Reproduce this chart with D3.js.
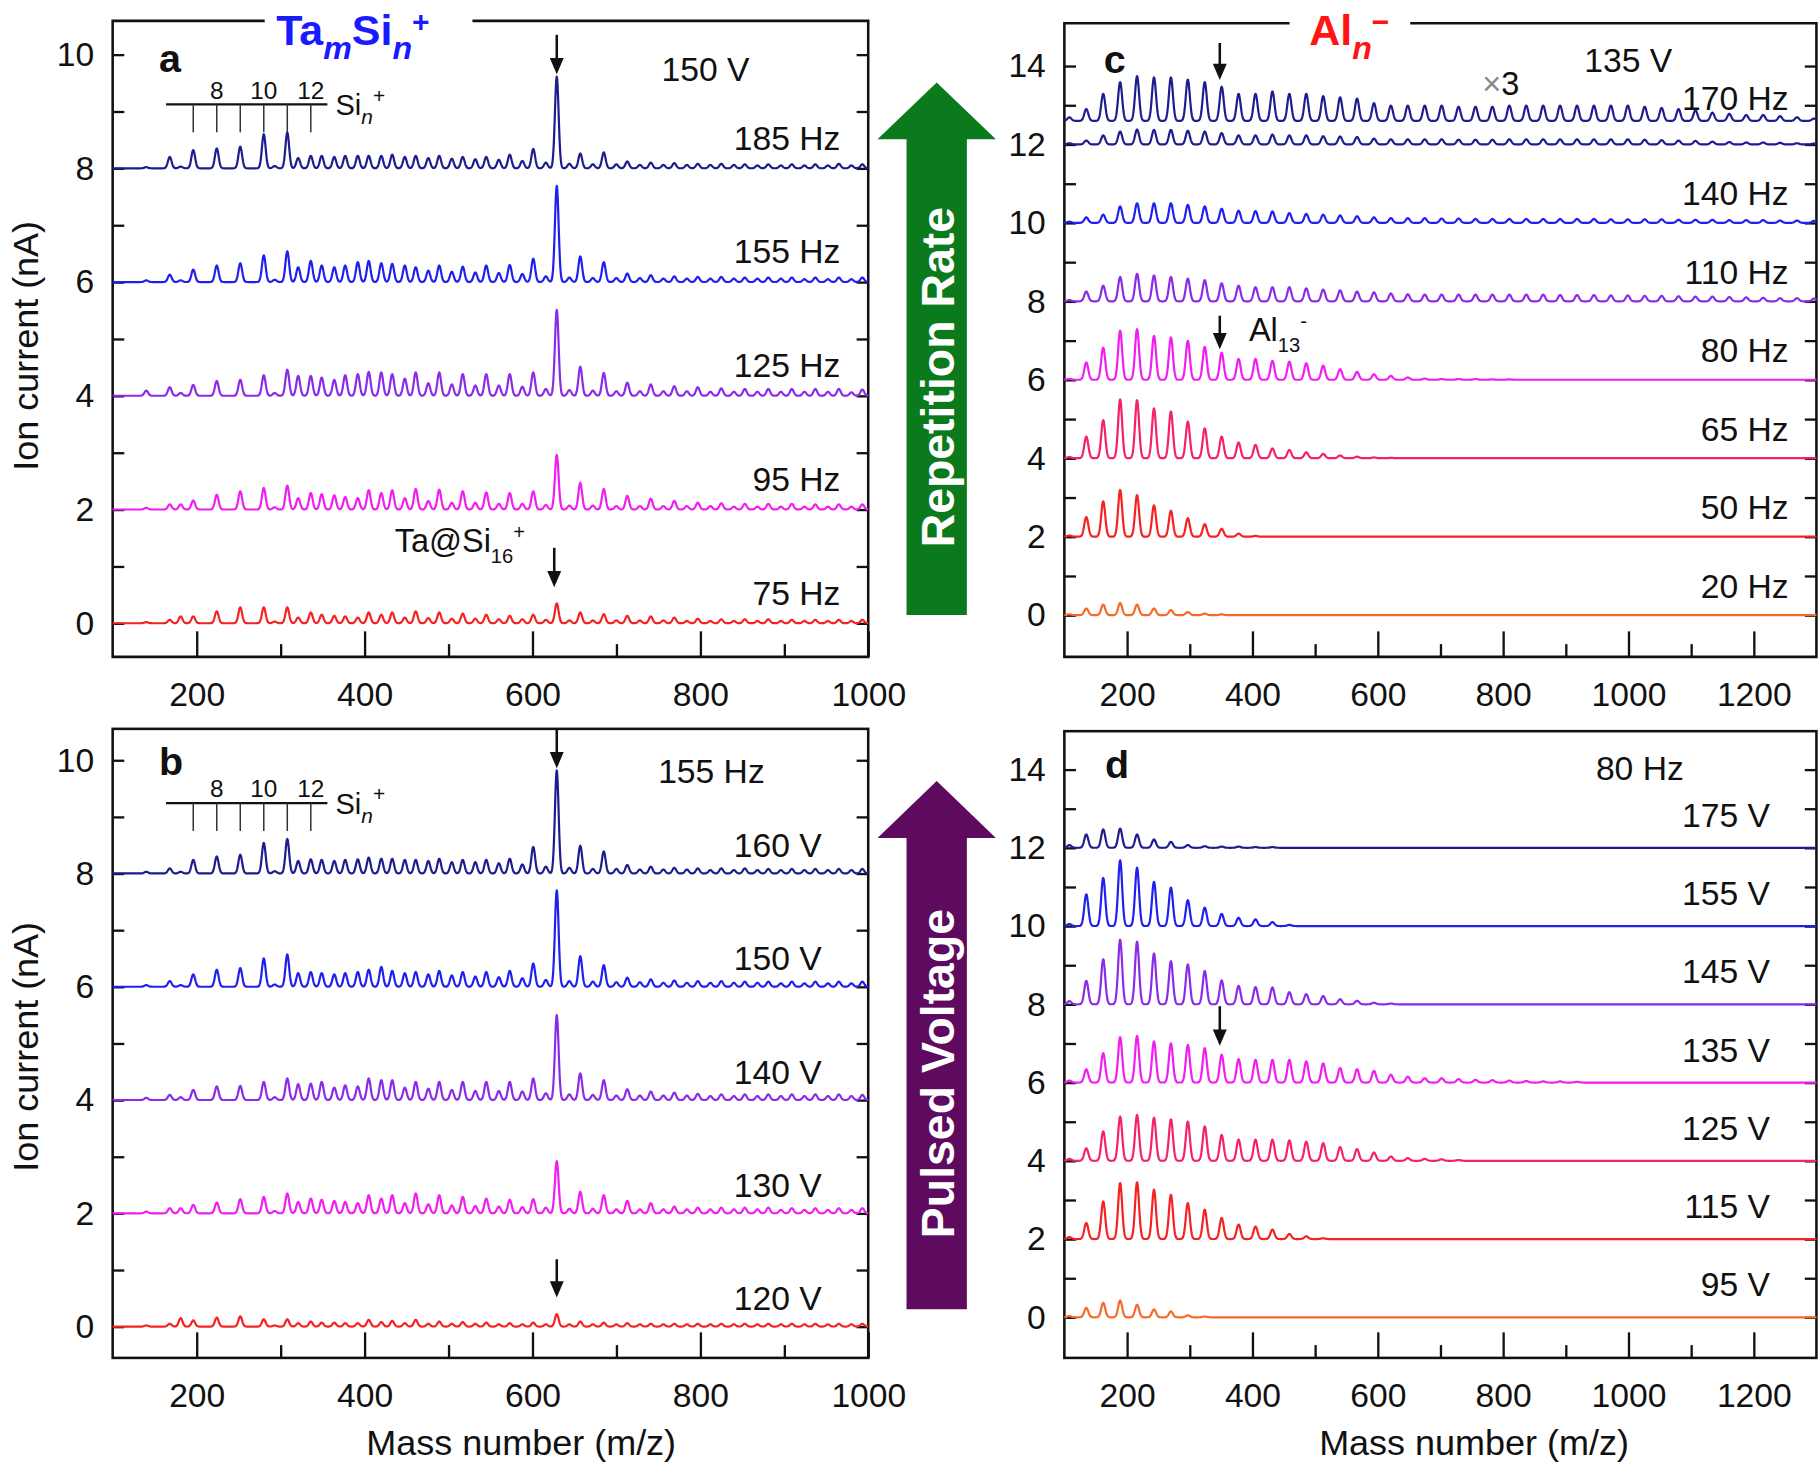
<!DOCTYPE html>
<html>
<head>
<meta charset="utf-8">
<script src="https://cdn.jsdelivr.net/npm/d3@7"></script>
<style>
  body { margin: 0; background: #fff; }
  svg { display: block; }
</style>
</head>
<body>
<svg id="fig"></svg>
<script>
// ---- peak positions (mass numbers) ----
const taMass = 181;
// Si_n+ , n = 5..35
const siMass = [140,168,196,224,252,280,308,336,364,392,420,448,476,504,532,560,588,616,644,672,700,728,756,784,812,840,868,896,924,952,980];
// TaSi_n+ , n = 4..29
const taSiMass = [293,321,349,377,405,433,461,489,517,545,573,601,629,657,685,713,741,769,797,825,853,881,909,937,965,993];
// Al_n- , n = 4..48
const alMass = [108,135,162,189,216,243,270,297,324,351,378,405,432,459,486,513,540,567,594,621,648,675,702,729,756,783,810,837,864,891,918,945,972,999,1026,1053,1080,1107,1134,1161,1188,1215,1242,1269,1296];

// ---- panel a : repetition rate (150 V) ----
const aLabels = ["185 Hz","155 Hz","125 Hz","95 Hz","75 Hz"];
const aBase = [8,6,4,2,0];
const aTa = [0.03,0.03,0.05,0.09,0.12];
const a185Si = [0.02,0.20,0.32,0.35,0.38,0.60,0.63,0.22,0.20,0.22,0.22,0.20,0.18,0.17,0.16,0.15,0.13,0.10,0.08,0.07,0.07,0.06,0.06,0.06,0.06,0.06,0.05,0.05,0.05,0.05,0.05];
const a185TaSi = [0.04,0.18,0.22,0.22,0.22,0.24,0.22,0.22,0.20,0.20,0.24,0.34,1.61,0.26,0.28,0.12,0.10,0.09,0.08,0.08,0.07,0.07,0.07,0.07,0.08,0.07];
const a155Si = [0.03,0.13,0.22,0.29,0.33,0.47,0.54,0.37,0.26,0.35,0.33,0.29,0.20,0.18,0.17,0.16,0.14,0.10,0.08,0.07,0.07,0.07,0.06,0.06,0.06,0.06,0.06,0.06,0.05,0.05,0.05];
const a155TaSi = [0.04,0.26,0.29,0.29,0.37,0.32,0.26,0.29,0.27,0.29,0.30,0.41,1.69,0.45,0.35,0.15,0.12,0.10,0.09,0.09,0.08,0.08,0.08,0.08,0.08,0.08];
const a125Si = [0.09,0.15,0.19,0.26,0.28,0.36,0.46,0.35,0.28,0.38,0.41,0.30,0.22,0.20,0.18,0.18,0.16,0.12,0.10,0.09,0.08,0.08,0.08,0.08,0.07,0.07,0.07,0.07,0.07,0.07,0.06];
const a125TaSi = [0.05,0.35,0.32,0.36,0.42,0.38,0.41,0.41,0.38,0.38,0.38,0.41,1.51,0.51,0.40,0.23,0.20,0.17,0.15,0.13,0.12,0.12,0.12,0.12,0.12,0.11];
const a95Si = [0.03,0.09,0.16,0.26,0.32,0.38,0.42,0.29,0.25,0.20,0.29,0.20,0.15,0.12,0.12,0.10,0.10,0.08,0.07,0.07,0.06,0.06,0.06,0.06,0.06,0.05,0.05,0.05,0.05,0.05,0.05];
const a95TaSi = [0.04,0.20,0.27,0.22,0.34,0.34,0.36,0.35,0.32,0.30,0.29,0.32,0.96,0.47,0.36,0.24,0.19,0.15,0.12,0.11,0.10,0.10,0.10,0.09,0.09,0.09];
const a75Si = [0.02,0.06,0.12,0.21,0.28,0.28,0.28,0.19,0.13,0.10,0.15,0.10,0.09,0.08,0.08,0.07,0.07,0.06,0.05,0.05,0.05,0.05,0.05,0.04,0.04,0.04,0.04,0.04,0.04,0.04,0.04];
const a75TaSi = [0.03,0.10,0.15,0.12,0.19,0.19,0.21,0.19,0.17,0.15,0.13,0.15,0.35,0.19,0.16,0.13,0.12,0.10,0.08,0.07,0.07,0.07,0.06,0.06,0.06,0.06];

// ---- panel b : pulsed voltage (155 Hz) ----
const bLabels = ["160 V","150 V","140 V","130 V","120 V"];
const bBase = [8,6,4,2,0];
const bTa = [0.03,0.03,0.05,0.09,0.15];
const b160Si = [0.03,0.09,0.24,0.30,0.33,0.54,0.61,0.25,0.22,0.25,0.26,0.24,0.22,0.20,0.20,0.18,0.16,0.12,0.10,0.08,0.08,0.07,0.07,0.07,0.06,0.06,0.06,0.06,0.06,0.06,0.06];
const b160TaSi = [0.04,0.22,0.24,0.24,0.28,0.26,0.24,0.26,0.24,0.24,0.26,0.47,1.82,0.49,0.39,0.15,0.12,0.10,0.09,0.09,0.09,0.08,0.08,0.08,0.08,0.08];
const b150Si = [0.03,0.10,0.22,0.30,0.33,0.50,0.57,0.26,0.22,0.26,0.35,0.24,0.22,0.20,0.18,0.17,0.15,0.12,0.10,0.09,0.08,0.08,0.07,0.07,0.07,0.07,0.07,0.06,0.06,0.06,0.06];
const b150TaSi = [0.04,0.24,0.24,0.24,0.30,0.28,0.26,0.28,0.26,0.26,0.28,0.41,1.70,0.54,0.38,0.16,0.13,0.11,0.10,0.10,0.09,0.09,0.09,0.09,0.09,0.09];
const b140Si = [0.04,0.09,0.18,0.24,0.25,0.32,0.38,0.29,0.22,0.24,0.35,0.22,0.20,0.18,0.16,0.16,0.15,0.12,0.10,0.09,0.08,0.08,0.08,0.08,0.07,0.07,0.07,0.07,0.07,0.07,0.07];
const b140TaSi = [0.05,0.28,0.32,0.26,0.38,0.35,0.32,0.32,0.32,0.32,0.32,0.38,1.50,0.47,0.35,0.19,0.15,0.13,0.11,0.10,0.10,0.10,0.10,0.10,0.10,0.09];
const b130Si = [0.03,0.09,0.15,0.19,0.25,0.29,0.35,0.26,0.22,0.18,0.26,0.18,0.16,0.14,0.13,0.12,0.11,0.10,0.08,0.08,0.07,0.07,0.07,0.07,0.07,0.07,0.07,0.06,0.06,0.06,0.06];
const b130TaSi = [0.04,0.20,0.24,0.20,0.32,0.32,0.35,0.32,0.29,0.26,0.24,0.25,0.92,0.38,0.32,0.22,0.18,0.12,0.10,0.10,0.10,0.10,0.09,0.09,0.09,0.09];
const b120Si = [0.02,0.05,0.11,0.16,0.18,0.13,0.13,0.09,0.07,0.06,0.08,0.06,0.05,0.05,0.05,0.04,0.04,0.04,0.04,0.04,0.04,0.04,0.04,0.04,0.04,0.04,0.04,0.04,0.04,0.04,0.04];
const b120TaSi = [0.02,0.06,0.07,0.06,0.12,0.10,0.12,0.09,0.08,0.07,0.06,0.07,0.22,0.09,0.07,0.06,0.05,0.05,0.05,0.05,0.05,0.05,0.05,0.05,0.05,0.05];

// ---- panel c : repetition rate (135 V) ----
const cLabels = ["170 Hz","140 Hz","110 Hz","80 Hz","65 Hz","50 Hz","20 Hz"];
const cBase = [12,10,8,6,4,2,0];
const c170 = [0.03,0.10,0.23,0.33,0.38,0.37,0.37,0.35,0.33,0.29,0.23,0.23,0.25,0.23,0.23,0.21,0.20,0.19,0.15,0.13,0.13,0.13,0.13,0.12,0.12,0.12,0.13,0.13,0.13,0.13,0.13,0.13,0.13,0.13,0.12,0.11,0.10,0.09,0.07,0.06,0.05,0.05,0.04,0.03,0.02];
const c140 = [0.03,0.14,0.21,0.42,0.50,0.50,0.50,0.46,0.42,0.36,0.31,0.30,0.29,0.25,0.23,0.21,0.19,0.17,0.14,0.12,0.12,0.12,0.11,0.11,0.10,0.10,0.10,0.10,0.10,0.10,0.10,0.10,0.09,0.09,0.09,0.09,0.08,0.08,0.08,0.07,0.07,0.07,0.06,0.06,0.05];
const c110 = [0.03,0.25,0.40,0.62,0.70,0.66,0.62,0.58,0.54,0.46,0.40,0.36,0.36,0.36,0.33,0.30,0.28,0.25,0.23,0.20,0.18,0.17,0.17,0.17,0.17,0.17,0.17,0.17,0.17,0.16,0.16,0.16,0.15,0.15,0.14,0.14,0.13,0.12,0.12,0.11,0.10,0.09,0.08,0.08,0.07];
const c80 = [0.02,0.44,0.82,1.25,1.29,1.12,1.08,0.99,0.84,0.69,0.53,0.53,0.48,0.46,0.42,0.36,0.27,0.20,0.14,0.10,0.06,0.03,0.02,0.02,0.02,0.01,0.01];
const c65 = [0.03,0.55,0.97,1.50,1.48,1.27,1.19,0.93,0.76,0.55,0.40,0.34,0.25,0.21,0.15,0.11,0.07,0.04,0.02,0.01];
const c50 = [0.03,0.50,0.90,1.19,1.06,0.80,0.66,0.47,0.32,0.20,0.08,0.02];
const c20 = [0.02,0.17,0.27,0.31,0.27,0.17,0.13,0.08,0.04,0.02];
const cTimes3Offset = 12.6;

// ---- panel d : pulsed voltage (80 Hz) ----
const dLabels = ["175 V","155 V","145 V","135 V","125 V","115 V","95 V"];
const dBase = [12,10,8,6,4,2,0];
const d175 = [0.07,0.34,0.47,0.49,0.34,0.21,0.15,0.07,0.04,0.03,0.03,0.02,0.02];
const d155 = [0.05,0.81,1.23,1.68,1.49,1.13,0.98,0.66,0.47,0.31,0.21,0.17,0.10,0.03];
const d145 = [0.08,0.60,1.15,1.65,1.60,1.30,1.10,1.02,0.85,0.61,0.47,0.44,0.43,0.31,0.26,0.21,0.13,0.09,0.04,0.02];
const d135 = [0.05,0.34,0.75,1.16,1.19,1.05,1.00,0.96,0.88,0.71,0.60,0.58,0.58,0.58,0.54,0.49,0.37,0.34,0.30,0.20,0.15,0.11,0.11,0.09,0.07,0.06,0.05,0.04,0.03,0.03,0.02];
const d125 = [0.05,0.32,0.75,1.13,1.17,1.10,1.06,1.00,0.88,0.66,0.54,0.54,0.54,0.52,0.49,0.45,0.35,0.30,0.21,0.11,0.07,0.05,0.04,0.02];
const d115 = [0.05,0.41,0.96,1.43,1.45,1.26,1.13,0.92,0.75,0.54,0.37,0.32,0.24,0.13,0.07,0.02];
const d95 = [0.03,0.24,0.37,0.43,0.32,0.20,0.15,0.05,0.02];

// ---- tick values ----
const tasiXTicks = [200,400,600,800,1000];
const tasiXMinor = [300,500,700,900];
const alXTicks = [200,400,600,800,1000,1200];
const alXMinor = [300,500,700,900,1100];

// ---------------------------------------------------------------
const FONT = '"Liberation Sans", Arial, Helvetica, sans-serif';
const W = 1568, H = 1264;
const colors5 = ["#1d1d8e","#2020ee","#8a2be8","#f01ef0","#f52222"];
const colors7 = ["#1d1d8e","#2020ee","#8a2be8","#f01ef0","#f5206e","#f52222","#f56a2a"];

const svg = d3.select("#fig")
  .attr("width", 1820).attr("height", 1467)
  .attr("viewBox", `0 0 ${W} ${H}`);

const panels = {
  a: { x0: 97, x1: 748, y0: 18, y1: 566, xd: [100, 1000], yd: [-0.592, 10.592] },
  b: { x0: 97, x1: 748, y0: 628, y1: 1170, xd: [100, 1000], yd: [-0.553, 10.553] },
  c: { x0: 917, x1: 1565, y0: 20, y1: 566, xd: [100, 1300], yd: [-1.065, 15.09] },
  d: { x0: 917, x1: 1565, y0: 630, y1: 1170, xd: [100, 1300], yd: [-1.038, 14.98] }
};
Object.values(panels).forEach(p => {
  p.x = d3.scaleLinear().domain(p.xd).range([p.x0, p.x1]);
  p.y = d3.scaleLinear().domain(p.yd).range([p.y1, p.y0]);
});

// build a spectrum curve from a list of peaks
function spectrum(peaks, sigma, xd, base, scale) {
  const pts = [];
  for (let m = xd[0]; m <= xd[1]; m += 0.5) {
    let v = 0;
    for (const pk of peaks) {
      const dx = m - pk[0];
      if (Math.abs(dx) < 6 * sigma) v += pk[1] * Math.exp(-dx * dx / (2 * sigma * sigma));
    }
    pts.push([m, base + v * scale]);
  }
  return pts;
}
function tasiPeaks(ta, si, tasi) {
  const out = [[taMass, ta]];
  siMass.forEach((m, i) => out.push([m, si[i] || 0]));
  taSiMass.forEach((m, i) => out.push([m, tasi[i] || 0]));
  return out;
}
function alPeaks(h) {
  return alMass.map((m, i) => [m, h[i] || 0]);
}

function text(g, x, y, str, size, anchor, opts = {}) {
  return g.append("text").attr("x", x).attr("y", y)
    .attr("text-anchor", anchor || "start")
    .style("font-family", FONT).style("font-size", size + "px")
    .style("font-weight", opts.bold ? "bold" : "normal")
    .style("fill", opts.fill || "#111")
    .text(str);
}
function rich(g, x, y, parts, size, opts = {}) {
  const t = g.append("text").attr("x", x).attr("y", y)
    .attr("text-anchor", opts.anchor || "start")
    .style("font-family", FONT).style("font-size", size + "px")
    .style("font-weight", opts.bold ? "bold" : "normal")
    .style("fill", opts.fill || "#111");
  let shift = 0;
  const supK = opts.supK || 0.42;
  parts.forEach(p => {
    const s = t.append("tspan").text(p.t);
    const target = p.sub ? size * 0.32 : p.sup ? -size * supK : 0;
    if (target - shift !== 0) s.attr("dy", target - shift);
    shift = target;
    if (p.sub || p.sup) s.style("font-size", (size * (p.small || 0.66)) + "px");
    if (p.it) s.style("font-style", "italic");
    if (p.fill) s.style("fill", p.fill);
  });
  return t;
}
function smallArrow(g, x, yTop, yTip) {
  g.append("line").attr("x1", x).attr("x2", x).attr("y1", yTop).attr("y2", yTip - 10)
    .attr("stroke", "#111").attr("stroke-width", 2.2);
  g.append("path").attr("d", `M${x - 6},${yTip - 14}L${x + 6},${yTip - 14}L${x},${yTip}Z`).attr("fill", "#111");
}

function drawFrame(key, yMax, xTicks, xMinor, titleGap) {
  const p = panels[key];
  const g = svg.append("g");
  // axes
  const yt = d3.range(0, yMax + 1);
  g.append("g").attr("transform", `translate(${p.x0},0)`)
    .call(d3.axisLeft(p.y).tickValues(yt).tickSize(-10).tickPadding(16)
      .tickFormat(d => d % 2 === 0 ? d : ""));
  g.append("g").attr("transform", `translate(${p.x1},0)`)
    .call(d3.axisRight(p.y).tickValues(yt).tickSize(-10).tickFormat(""));
  g.append("g").attr("transform", `translate(0,${p.y1})`)
    .call(d3.axisBottom(p.x).tickValues(xTicks).tickSize(-22).tickPadding(22)
      .tickFormat(d3.format("d")));
  g.append("g").attr("transform", `translate(0,${p.y1})`)
    .call(d3.axisBottom(p.x).tickValues(xMinor).tickSize(-11).tickFormat(""));
  g.selectAll(".domain").remove();
  g.selectAll(".tick line").attr("stroke", "#111").attr("stroke-width", 2);
  g.selectAll(".tick text").style("font-family", FONT).style("font-size", "29px").attr("fill", "#111");
  // frame
  const fr = svg.append("g").attr("stroke", "#111").attr("stroke-width", 2.2).attr("fill", "none");
  if (titleGap) {
    fr.append("path").attr("d",
      `M${titleGap[0]},${p.y0}H${p.x0}V${p.y1}H${p.x1}V${p.y0}H${titleGap[1]}`);
  } else {
    fr.append("rect").attr("x", p.x0).attr("y", p.y0).attr("width", p.x1 - p.x0).attr("height", p.y1 - p.y0);
  }
  return g;
}

function drawTrace(key, pts, color) {
  const p = panels[key];
  const line = d3.line().x(d => p.x(d[0])).y(d => p.y(d[1]));
  svg.append("path").datum(pts).attr("d", line)
    .attr("fill", "none").attr("stroke", color).attr("stroke-width", 1.9)
    .attr("stroke-linejoin", "round");
}

// ---- panel a ----
drawFrame("a", 10, tasiXTicks, tasiXMinor, [228, 407]);
const aSi = [a185Si, a155Si, a125Si, a95Si, a75Si];
const aTaSi = [a185TaSi, a155TaSi, a125TaSi, a95TaSi, a75TaSi];
aBase.forEach((b, i) => {
  drawTrace("a", spectrum(tasiPeaks(aTa[i], aSi[i], aTaSi[i]), 2.2, panels.a.xd, b, 1), colors5[i]);
  text(svg, 724, panels.a.y(b) - 16, aLabels[i], 29, "end");
});

// ---- panel b ----
drawFrame("b", 10, tasiXTicks, tasiXMinor, null);
const bSi = [b160Si, b150Si, b140Si, b130Si, b120Si];
const bTaSi = [b160TaSi, b150TaSi, b140TaSi, b130TaSi, b120TaSi];
bBase.forEach((b, i) => {
  drawTrace("b", spectrum(tasiPeaks(bTa[i], bSi[i], bTaSi[i]), 2.2, panels.b.xd, b, 1), colors5[i]);
  text(svg, 708, panels.b.y(b) - 14, bLabels[i], 29, "end");
});

// ---- panel c ----
drawFrame("c", 14, alXTicks, alXMinor, [1111, 1215]);
const cData = [c170, c140, c110, c80, c65, c50, c20];
drawTrace("c", spectrum(alPeaks(c170), 3.2, panels.c.xd, cTimes3Offset, 3), colors7[0]);
cBase.forEach((b, i) => {
  drawTrace("c", spectrum(alPeaks(cData[i]), 3.2, panels.c.xd, b, 1), colors7[i]);
  const ly = i === 0 ? panels.c.y(cTimes3Offset) - 9 : panels.c.y(b) - 15;
  text(svg, 1541, ly, cLabels[i], 29, "end");
});

// ---- panel d ----
drawFrame("d", 14, alXTicks, alXMinor, null);
const dData = [d175, d155, d145, d135, d125, d115, d95];
dBase.forEach((b, i) => {
  drawTrace("d", spectrum(alPeaks(dData[i]), 3.2, panels.d.xd, b, 1), colors7[i]);
  text(svg, 1525, panels.d.y(b) - 18, dLabels[i], 29, "end");
});

// ---- titles & panel letters ----
rich(svg, 238, 39, [{ t: "Ta" }, { t: "m", sub: true, it: true, small: 0.75 }, { t: "Si" },
  { t: "n", sub: true, it: true, small: 0.75 }, { t: "+", sup: true, small: 0.7 }], 37,
  { bold: true, fill: "#1a1aff", supK: 0.3 });
rich(svg, 1128, 39, [{ t: "Al" }, { t: "n", sub: true, it: true, small: 0.75 }, { t: "\u2212", sup: true, small: 0.7 }],
  37, { bold: true, fill: "#ff1414", supK: 0.3 });
text(svg, 137, 62, "a", 34, "start", { bold: true });
text(svg, 137, 668, "b", 34, "start", { bold: true });
text(svg, 951, 63, "c", 34, "start", { bold: true });
text(svg, 952, 670, "d", 34, "start", { bold: true });

text(svg, 570, 70, "150 V", 29);
text(svg, 567, 675, "155 Hz", 29);
text(svg, 1365, 62, "135 V", 29);
text(svg, 1375, 672, "80 Hz", 29);

// ---- Si_n combs ----
[["a", 90], ["b", 692]].forEach(([k, cy]) => {
  const p = panels[k];
  const g = svg.append("g");
  g.append("line").attr("x1", 143).attr("x2", 282).attr("y1", cy).attr("y2", cy)
    .attr("stroke", "#111").attr("stroke-width", 2);
  siMass.slice(2, 8).forEach(m => {
    g.append("line").attr("x1", p.x(m)).attr("x2", p.x(m)).attr("y1", cy).attr("y2", cy + 24)
      .attr("stroke", "#333").attr("stroke-width", 1.3);
  });
  [[224, "8"], [280, "10"], [336, "12"]].forEach(([m, s]) => text(g, p.x(m), cy - 5, s, 21, "middle"));
  rich(g, 289, cy + 9, [{ t: "Si" }, { t: "n", sub: true, it: true, small: 0.72 }, { t: "+", sup: true, small: 0.72 }], 25);
});

// ---- small arrows & annotations ----
smallArrow(svg, panels.a.x(629), 30, 64);
smallArrow(svg, panels.a.x(626), 472, 506);
rich(svg, 340, 476, [{ t: "Ta@Si" }, { t: "16", sub: true, small: 0.62 }, { t: "+", sup: true, small: 0.62 }], 28);
smallArrow(svg, panels.b.x(629), 628, 662);
smallArrow(svg, panels.b.x(629), 1085, 1118);
smallArrow(svg, panels.c.x(348), 37, 69);
smallArrow(svg, panels.c.x(348), 272, 301);
rich(svg, 1076, 294, [{ t: "Al" }, { t: "13", sub: true, small: 0.62 }, { t: "-", sup: true, small: 0.62 }], 28);
smallArrow(svg, panels.d.x(348), 867, 901);
rich(svg, 1277, 82, [{ t: "\u00d7", fill: "#888" }, { t: "3" }], 28);

// ---- big arrows ----
function bigArrow(tipY, headY, botY, color, label) {
  svg.append("path")
    .attr("d", `M807,${tipY}L858,${headY}L833,${headY}L833,${botY}L781,${botY}L781,${headY}L756,${headY}Z`)
    .attr("fill", color);
  const cy = (headY + botY) / 2;
  svg.append("text").attr("transform", `translate(822,${cy}) rotate(-90)`)
    .attr("text-anchor", "middle")
    .style("font-family", FONT).style("font-size", "40px").style("font-weight", "bold")
    .style("fill", "#fff").text(label);
}
bigArrow(71, 120, 530, "#0b7a1c", "Repetition Rate");
bigArrow(673, 722, 1128, "#5e0a5e", "Pulsed Voltage");

// ---- axis titles ----
[298, 902].forEach(cy => {
  svg.append("text").attr("transform", `translate(33,${cy}) rotate(-90)`)
    .attr("text-anchor", "middle")
    .style("font-family", FONT).style("font-size", "31px").style("fill", "#111")
    .text("Ion current (nA)");
});
text(svg, 449, 1254, "Mass number (m/z)", 31, "middle");
text(svg, 1270, 1254, "Mass number (m/z)", 31, "middle");
</script>
</body>
</html>
